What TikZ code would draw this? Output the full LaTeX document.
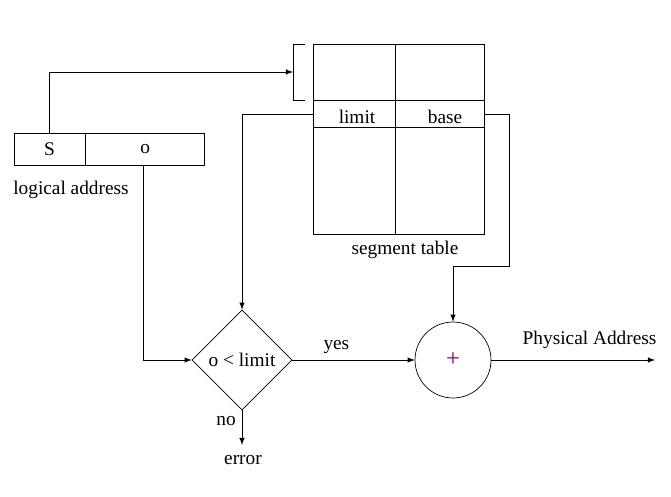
\documentclass[tikz,border=0pt]{standalone}
\usepackage{fontspec}
\setmainfont{Liberation Serif}
\usetikzlibrary{positioning,shapes.geometric,arrows}
\tikzset{
        >=latex, % arrow heads
        cell/.style={draw, minimum height=0.64cm, inner sep=0pt}, % boxes of the logical address
        lbl/.style={inner sep=1pt}, % plain labels
    }

\begin{document}
\begin{tikzpicture}[x=0.02cm, y=-0.02cm, font=\fontsize{11}{13}\selectfont]
    \useasboundingbox (0,0) rectangle (671,496);
    % logical address
    \node[cell, minimum width=1.42cm] (S) at (49.5,149) {S};
    \node[cell, minimum width=2.38cm, right=0pt of S] (o) {o};
    \node[lbl] (la) at (71,190) {logical address};
    % segment table
    \node[draw, minimum width=3.42cm, minimum height=3.8cm, inner sep=0pt] (tab) at (398.5,139) {};
    \draw (395,44) -- (395,234);
    \draw (313,100) -- (484,100);
    \draw (313,127) -- (484,127);
    \node[lbl] (limit) at (357,117) {limit};
    \node[lbl] (base) at (445,117) {base};
    \node[lbl] (st) at (405,250) {segment table};
    \coordinate (br) at (293,72);
    \draw (305,44) -- (293,44) -- (293,100) -- (305,100);
    % compare and add
    \node[draw, diamond, minimum width=2cm, minimum height=2cm, inner sep=0pt] (cmp) at (242,360) {o < limit};
    \node[draw, circle, minimum size=1.52cm, inner sep=0pt, text=violet, font=\fontsize{14}{14}\selectfont] (add) at (453,360) {+};
    \coordinate (err) at (242,445);
    \coordinate (out) at (655,360);
    \node[lbl] (err-l) at (243,460) {error};
    % connectors
    \draw[->] (S.north) |- (br);
    \draw[->] (313,114) -| (cmp.north);
    \draw[->] (484,114) -- (509,114) |- (453,266) -- (add.north);
    \draw[->] (o.south -| 143,0) |- (cmp.west);
    \draw[->] (cmp.east) -- node[above, pos=0.36] {yes} (add.west);
    \draw[->] (cmp.south) -- node[left, pos=0.3] {no} (err);
    \draw[->] (add.east) -- node[above, pos=0.6, yshift=3pt] {Physical Address} (out);
\end{tikzpicture}
\end{document}
